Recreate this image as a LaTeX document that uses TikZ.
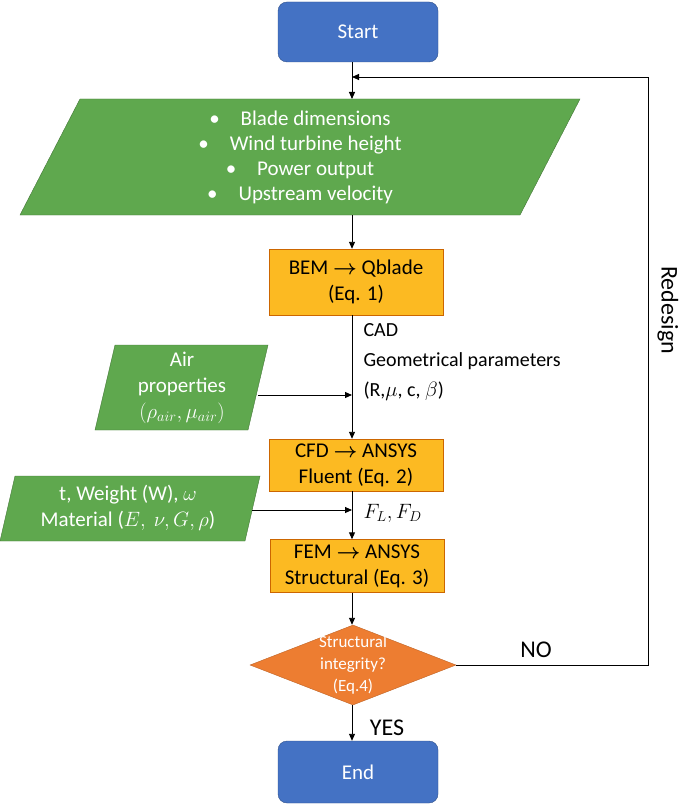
\documentclass[tikz,border=0pt]{standalone}
\usepackage{amsmath}
\usepackage{fontspec}
\setmainfont{Carlito}
\usetikzlibrary{arrows.meta,shapes.geometric}
\definecolor{cblue}{HTML}{4472C4}
\definecolor{cgreen}{HTML}{5FA84E}
\definecolor{cyel}{HTML}{FCBA22}
\definecolor{cora}{HTML}{ED7D31}
\newcommand{\barr}{$\boldsymbol\rightarrow$}
\begin{document}
\begin{tikzpicture}[x=1pt,y=-1pt,font=\fontsize{21}{26}\selectfont,
  term/.style={draw=cblue!70!black,fill=cblue,rounded corners=9pt,minimum width=160pt,minimum height=60pt,text=white},
  proc/.style={draw=orange!80!black,fill=cyel,minimum width=174pt,align=center,inner sep=2pt},
  para/.style={draw=cgreen!70!black,fill=cgreen},
  ptext/.style={text=white,align=center},
  arr/.style={-{Triangle[length=7pt,width=6pt]},line width=0.9pt}]
\useasboundingbox (0,0) rectangle (685,805);
\node[term] (start) at (358,32) {Start};
\node[term,minimum height=62pt] (end) at (358,772) {End};
\draw[para] (80,99)--(580,99)--(520,215)--(20,215)--cycle;
\node[ptext,font=\fontsize{21}{25}\selectfont] (in1) at (300,157) {\textbullet\quad Blade dimensions\\\textbullet\quad Wind turbine height\\\textbullet\quad Power output\\\textbullet\quad Upstream velocity};
\coordinate (in1t) at (352,99);
\coordinate (in1b) at (352,215);
\node[proc,minimum height=66pt] (bem) at (356,282) {BEM \barr{} Qblade\\(Eq. 1)};
\draw[para] (115,345)--(268,345)--(248,430)--(95,430)--cycle;
\node[ptext] (air) at (182,388) {Air\\properties\\$(\rho_{air},\mu_{air})$};
\coordinate (airr) at (258,395);
\node[proc,minimum height=52pt] (cfd) at (356,465) {CFD \barr{} ANSYS\\Fluent (Eq. 2)};
\draw[para] (15,476)--(260,476)--(245,541)--(0,541)--cycle;
\node[ptext] (mat) at (128,508) {t, Weight (W), $\omega$\\Material ($E,\ \nu,G,\rho$)};
\coordinate (matr) at (252,510);
\node[proc,minimum height=53pt] (fem) at (357,566) {FEM \barr{} ANSYS\\Structural (Eq. 3)};
\node[diamond,draw=cora!80!black,fill=cora,minimum width=206pt,minimum height=80pt,aspect=2.6,inner sep=-4pt,text=white,align=center,font=\fontsize{17}{22}\selectfont] (dec) at (353,665) {Structural\\integrity?\\(Eq.4)};
\coordinate (c1) at (648,665);
\coordinate (c2) at (648,77);
\coordinate (c3) at (352,77);
\draw[arr] (start.south -| in1t) -- (in1t);
\draw[arr] (in1b) -- (in1b |- bem.north);
\draw[arr] (in1b |- bem.south) -- (in1b |- cfd.north);
\draw[arr] (airr) -- (airr -| in1b);
\draw[arr] (in1b |- cfd.south) -- (in1b |- fem.north);
\draw[arr] (matr) -- (matr -| in1b);
\draw[arr] (in1b |- fem.south) -- (in1b |- dec.north);
\draw[arr] (in1b |- dec.south) -- (in1b |- end.north);
\draw[arr] (dec.east) -- (c1) -- (c2) -- (c3);
\node[anchor=west,align=left,font=\fontsize{20}{30}\selectfont] (cad) at (360,362) {CAD\\Geometrical parameters\\(R,$\mu$, c, $\beta$)};
\node[anchor=west] (fl) at (360,513) {$F_L,F_D$};
\node[font=\fontsize{24}{28}\selectfont] (no) at (536,650) {NO};
\node[font=\fontsize{24}{28}\selectfont] (yes) at (387,728) {YES};
\node[rotate=-90,font=\fontsize{24}{28}\selectfont] (red) at (668,310) {Redesign};
\end{tikzpicture}
\end{document}
